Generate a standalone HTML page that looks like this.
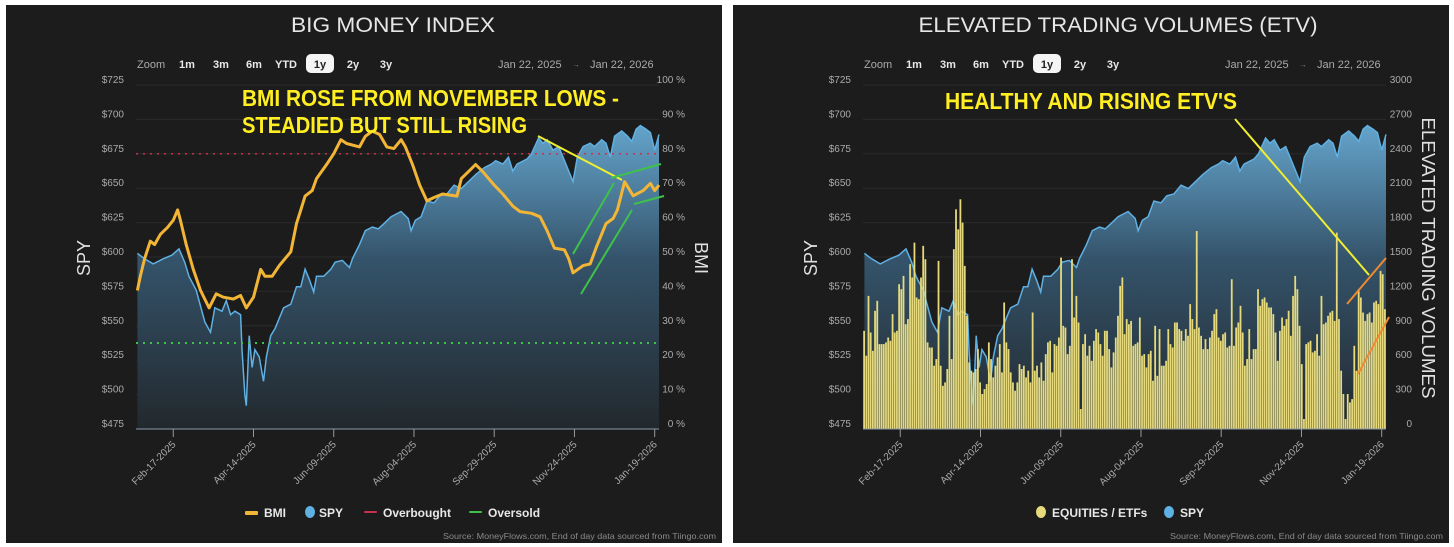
<!DOCTYPE html>
<html><head><meta charset="utf-8">
<style>
html,body{margin:0;padding:0;background:#fff;}
svg{display:block;font-family:"Liberation Sans",sans-serif;}
</style></head>
<body>
<svg id="root" width="1454" height="547" viewBox="0 0 1454 547" xmlns="http://www.w3.org/2000/svg">
<defs>
<linearGradient id="areaGrad" x1="0" y1="120" x2="0" y2="430" gradientUnits="userSpaceOnUse">
<stop offset="0" stop-color="#6aaed8" stop-opacity="0.95"/>
<stop offset="0.45" stop-color="#34536a"/>
<stop offset="1" stop-color="#22282d"/>
</linearGradient>
</defs>
</svg>
<script>
// ---- data ----
const spyDays=[1,6,12,19,25,30,34,37,42,48,52,55,60,63,66,69,73,74,76,77,79,81,83,86,89,91,94,97,100,103,108,112,115,118,121,124,126,131,136,139,144,149,151,156,160,165,169,173,178,185,190,192,195,199,203,208,212,217,222,227,232,237,243,248,251,256,260,263,266,273,276,281,284,287,291,295,300,305,308,312,317,320,325,328,331,334,339,343,346,349,352,356,359,362,365];
const spyVals=[602.6,598.7,595,598.7,601.3,605.9,596.2,586,575.9,552.9,545.3,563.1,560.6,568.3,558.1,560.6,558.1,532.6,499.5,491.9,542.8,519.8,532.6,527.5,509.7,527.5,542.8,547.9,555.5,563.1,565.7,578.4,578.4,591.1,583.5,574.6,586,586,591.1,596.2,597.5,592.4,598.7,609,619.1,621.7,620.4,624.2,629.3,633.1,628,619.1,626.7,629.3,640.7,639.4,644.5,645.8,652.2,649.7,654.7,659.8,664.9,667.5,670,667.5,672.5,662.4,667.5,671.3,675.1,686.5,682.7,685.2,677.6,680.2,667.5,654.7,672.5,680.2,682.7,680.2,685.2,682.7,672.5,687.8,691.6,687.8,684,692.9,695.5,692.9,690.4,677.6,689.1];
const bmiDays=[1,3,6,10,13,17,22,26,29,31,35,40,45,51,56,61,68,73,77,82,87,90,95,100,108,112,115,118,123,126,133,138,143,147,156,160,165,170,175,180,185,188,193,198,203,208,214,224,227,232,237,242,250,256,263,268,276,282,287,292,299,302,305,312,317,321,328,333,336,341,347,354,359,362,365];
const bmiVals=[40.3,44.4,49.5,54.6,53.6,56.6,58.6,60.7,63.7,60.7,53.6,46.4,40.3,35.2,39.3,38.3,37.8,38.8,35.2,38.3,46.4,44.4,44.4,47.5,51.5,59.7,63.7,67.7,69.3,72.8,76.9,80,84.1,83,82,85.1,86.6,85.6,82,81.5,84.1,82,76.9,70.9,66.3,67.3,68.3,67.7,72.8,74.8,76.9,74.8,70.9,68.3,64.8,63.2,62.7,61.7,57.6,52.6,52.1,49.5,45.4,47.5,48,52.6,59.7,61.2,63.7,71.9,67.8,69.3,71.4,69.3,70.9];
const etvVals=[856,639,1161,842,682,1031,1118,740,740,740,755,798,769,1002,842,856,1263,1219,1335,914,958,1437,1321,1626,1147,1132,1321,1597,1481,755,711,711,552,610,1466,552,377,406,523,987,610,1568,1916,1742,2003,1800,1422,987,581,508,494,523,697,406,305,348,392,755,610,450,552,624,740,494,1103,755,697,494,406,334,406,566,523,
552,450,508,406,1016,508,552,450,581,421,653,755,769,494,740,726,798,1495,900,885,653,726,1481,972,1161,929,174,740,827,639,726,595,769,871,842,740,639,856,856,697,537,668,798,987,1248,1321,827,958,914,943,726,740,755,972,639,653,537,653,682,421,900,464,871,552,552,595,871,740,711,929,929,871,856,769,871,813,1089,958,871,1727,885,813,697,784,
697,798,856,1002,1045,798,769,827,842,711,726,1306,726,885,929,1074,842,552,610,871,610,697,697,1219,1074,1132,1147,1103,1060,1060,1002,842,595,856,972,900,958,1031,813,1161,1335,1219,900,566,87,740,755,769,668,682,827,639,1161,914,929,987,1016,1031,943,1713,958,508,305,87,305,232,261,726,508,1219,1147,1016,943,1002,1016,929,1103,1118,1089,1379,1350,1045];
const xTickDays=[26,82,138,194,250,306,362];
const xTickLabels=["Feb-17-2025","Apr-14-2025","Jun-09-2025","Aug-04-2025","Sep-29-2025","Nov-24-2025","Jan-19-2026"];
const spyTicks=[475,500,525,550,575,600,625,650,675,700,725];
const bmiTicks=[0,10,20,30,40,50,60,70,80,90,100];
const etvTicks=[0,300,600,900,1200,1500,1800,2100,2400,2700,3000];
const overbought=80, oversold=25;

// ---- geometry ----
const NS="http://www.w3.org/2000/svg";
const root=document.getElementById('root');
const PX0=136, PX1=659, PY0=85, PY1=429;
function xDay(ox,d){return ox+PX0+d*(PX1-PX0)/365;}
function ySpy(v){return PY1-(v-475)/250*(PY1-PY0);}
function yPct(v){return PY1-v/100*(PY1-PY0);}
function yEtv(v){return PY1-v/3000*(PY1-PY0);}
function mk(tag,attrs,parent){const e=document.createElementNS(NS,tag);for(const k in attrs)e.setAttribute(k,attrs[k]);(parent||root).appendChild(e);return e;}
function txt(s,attrs,parent){const e=mk('text',attrs,parent);e.textContent=s;return e;}

function panel(ox,kind){
  const g=mk('g',{});
  
  
  const bg=mk('rect',{x:ox+6,y:5,width:716,height:538,fill:'#1c1c1c'},g);
  
  
  // title
  const t=txt(kind==='bmi'?'BIG MONEY INDEX':'ELEVATED TRADING VOLUMES (ETV)',{x:ox+(kind==='bmi'?393:391),y:32,'text-anchor':'middle','font-size':21,fill:'#e6e6e6',textLength:kind==='bmi'?204:399,lengthAdjust:'spacingAndGlyphs'},g);
  
  
  // range selector
  const z=txt('Zoom',{x:ox+137,y:68,'font-size':11,fill:'#aaa'},g);
  
  
  const btnBg=mk('rect',{x:ox+306,y:54,width:28,height:19,rx:5,fill:'#f5f5f5'},g);
  
  
  const btns=[['1m',187],['3m',221],['6m',254],['YTD',286],['1y',320],['2y',353],['3y',386]];
  btns.forEach(b=>{
    const e=txt(b[0],{x:ox+b[1],y:68,'text-anchor':'middle','font-size':11,'font-weight':'bold',fill:b[0]==='1y'?'#222':'#e8e8e8'},g);
    
    
  });
  const d1=txt('Jan 22, 2025',{x:ox+498,y:68,'font-size':11,fill:'#aaa'},g);
  
  
  const ar=txt('→',{x:ox+576,y:67,'text-anchor':'middle','font-size':7,fill:'#999'},g);
  
  
  const d2=txt('Jan 22, 2026',{x:ox+590,y:68,'font-size':11,fill:'#aaa'},g);
  
  
  // grid + left ticks
  spyTicks.forEach(v=>{
    const y=ySpy(v);
    const gl=mk('line',{x1:ox+PX0,x2:ox+PX1,y1:y,y2:y,stroke:'#2a2a2a','stroke-width':1},g);
    
    
    const l=txt('$'+v,{x:ox+124,y:y-2,'text-anchor':'end','font-size':10,fill:'#aaa'},g);
    
    
  });
  const rt=kind==='bmi'?bmiTicks:etvTicks;
  rt.forEach(v=>{
    const y=kind==='bmi'?yPct(v):yEtv(v);
    const l=txt(kind==='bmi'?v+' %':String(v),{x:ox+685,y:y-2,'text-anchor':'end','font-size':10,fill:'#aaa'},g);
    
    
  });
  // SPY area
  let d='M'+xDay(ox,spyDays[0])+','+PY1;
  spyDays.forEach((dd,i)=>{d+=' L'+xDay(ox,dd).toFixed(1)+','+ySpy(spyVals[i]).toFixed(1);});
  d+=' L'+xDay(ox,spyDays[spyDays.length-1])+','+PY1+' Z';
  const area=mk('path',{d:d,fill:'url(#areaGrad)'},g);
  
  
  let ld='';
  spyDays.forEach((dd,i)=>{ld+=(i?' L':'M')+xDay(ox,dd).toFixed(1)+','+ySpy(spyVals[i]).toFixed(1);});
  const line=mk('path',{d:ld,fill:'none',stroke:'#5fb0e3','stroke-width':1.5},g);
  
  
  if(kind==='bmi'){
    const ob=mk('line',{x1:ox+PX0,x2:ox+PX1,y1:yPct(overbought),y2:yPct(overbought),stroke:'#c8324e','stroke-width':1.5,'stroke-dasharray':'2,5'},g);
    
    
    const os=mk('line',{x1:ox+PX0,x2:ox+PX1,y1:yPct(oversold),y2:yPct(oversold),stroke:'#3ec24a','stroke-width':2,'stroke-dasharray':'2,5'},g);
    
    
    let bd='';
    bmiDays.forEach((dd,i)=>{bd+=(i?' L':'M')+xDay(ox,dd).toFixed(1)+','+yPct(bmiVals[i]).toFixed(1);});
    const bl=mk('path',{d:bd,fill:'none',stroke:'#f2b535','stroke-width':3,'stroke-linejoin':'round'},g);
    
    
  } else {
    const n=etvVals.length, pitch=(PX1-PX0)/n;
    etvVals.forEach((v,i)=>{
      const b=mk('rect',{x:(ox+PX0+i*pitch+pitch*0.1).toFixed(2),y:yEtv(v).toFixed(1),width:(pitch*0.82).toFixed(2),height:(PY1-yEtv(v)).toFixed(1),fill:'#e6da7c'},g);
      
      
    });
  }
  // x axis
  const ax=mk('line',{x1:ox+PX0,x2:ox+PX1,y1:PY1,y2:PY1,stroke:'#8a99a8','stroke-width':1},g);
  
  
  xTickDays.forEach((dd,i)=>{
    const x=xDay(ox,dd);
    const tk=mk('line',{x1:x,x2:x,y1:PY1,y2:PY1+8,stroke:'#999','stroke-width':1},g);
    
    
    const l=txt(xTickLabels[i],{x:x+3,y:PY1+16,'text-anchor':'end','font-size':10,fill:'#aaa',transform:'rotate(-45 '+(x+3)+' '+(PY1+16)+')'},g);
    
    
  });
  // axis titles
  const st=txt('SPY',{x:ox+90,y:258,'text-anchor':'middle','font-size':18,fill:'#e0e0e0',transform:'rotate(-90 '+(ox+90)+' 258)'},g);
  
  
  if(kind==='bmi'){
    const rt2=txt('BMI',{x:ox+695,y:258,'text-anchor':'middle','font-size':18,fill:'#e0e0e0',transform:'rotate(90 695 258)'},g);
    
    
  } else {
    const rt2=txt('ELEVATED TRADING VOLUMES',{x:ox+695,y:258,'text-anchor':'middle','font-size':18,fill:'#e0e0e0',textLength:281,lengthAdjust:'spacingAndGlyphs',transform:'rotate(90 '+(ox+695)+' 258)'},g);
    
    
  }
  // legend
  if(kind==='bmi'){
    const items=[['line','#f2b535',245,'BMI'],['dot','#5fb0e3',310,'SPY'],['line','#c8324e',364,'Overbought'],['line','#3ec24a',469,'Oversold']];
    items.forEach(it=>{
      const lg=mk('g',{},g);
      
      
      if(it[0]==='line') mk('rect',{x:ox+it[2],y:511,width:13,height:it[3]==='BMI'?4:2,rx:1,fill:it[1]},lg);
      else mk('ellipse',{cx:ox+it[2],cy:512,rx:5,ry:6,fill:it[1]},lg);
      txt(it[3],{x:ox+it[2]+(it[0]==='line'?19:9),y:517,'font-size':12,'font-weight':'bold',fill:'#e8e8e8'},lg);
    });
  } else {
    const items=[['#e6da7c',314,'EQUITIES / ETFs'],['#5fb0e3',442,'SPY']];
    items.forEach(it=>{
      const lg=mk('g',{},g);
      
      
      mk('ellipse',{cx:ox+it[1],cy:512,rx:5,ry:6,fill:it[0]},lg);
      txt(it[2],{x:ox+it[1]+11,y:517,'font-size':12,'font-weight':'bold',fill:'#e8e8e8'},lg);
    });
  }
  const src=txt('Source: MoneyFlows.com, End of day data sourced from Tiingo.com',{x:ox+716,y:539,'text-anchor':'end','font-size':8.5,fill:'#8a8a8a',textLength:273,lengthAdjust:'spacingAndGlyphs'},g);
  
  
  return g;
}
const pL=panel(0,'bmi');
const pR=panel(727,'etv');

// annotations
function ann(){
  const g=mk('g',{});
  
  
  const a1=txt('BMI ROSE FROM NOVEMBER LOWS -',{x:242,y:106,'font-size':23,'font-weight':'bold',fill:'#ffee22',textLength:377,lengthAdjust:'spacingAndGlyphs'},g);
  
  
  const a2=txt('STEADIED BUT STILL RISING',{x:242,y:133,'font-size':23,'font-weight':'bold',fill:'#ffee22',textLength:285,lengthAdjust:'spacingAndGlyphs'},g);
  
  
  const a3=txt("HEALTHY AND RISING ETV'S",{x:945,y:109,'font-size':23,'font-weight':'bold',fill:'#ffee22',textLength:292,lengthAdjust:'spacingAndGlyphs'},g);
  
  
  const lines=[[538,136,622,180,'#f0ee30','annotation-pointer'],[573,254,614,183,'#3ec24a','trend-line'],[581,294,632,210,'#3ec24a','trend-line'],[611,178,661,164,'#3ec24a','trend-line'],[634,204,664,196,'#3ec24a','trend-line'],
    [1235,119,1369,275,'#f0ee30','annotation-pointer'],[1347,304,1386,258,'#f08a30','trend-line'],[1358,374,1389,317,'#f08a30','trend-line']];
  lines.forEach(l=>{
    const e=mk('line',{x1:l[0],y1:l[1],x2:l[2],y2:l[3],stroke:l[4],'stroke-width':2},g);
    
    
  });
}
ann();
</script>
</body></html>
